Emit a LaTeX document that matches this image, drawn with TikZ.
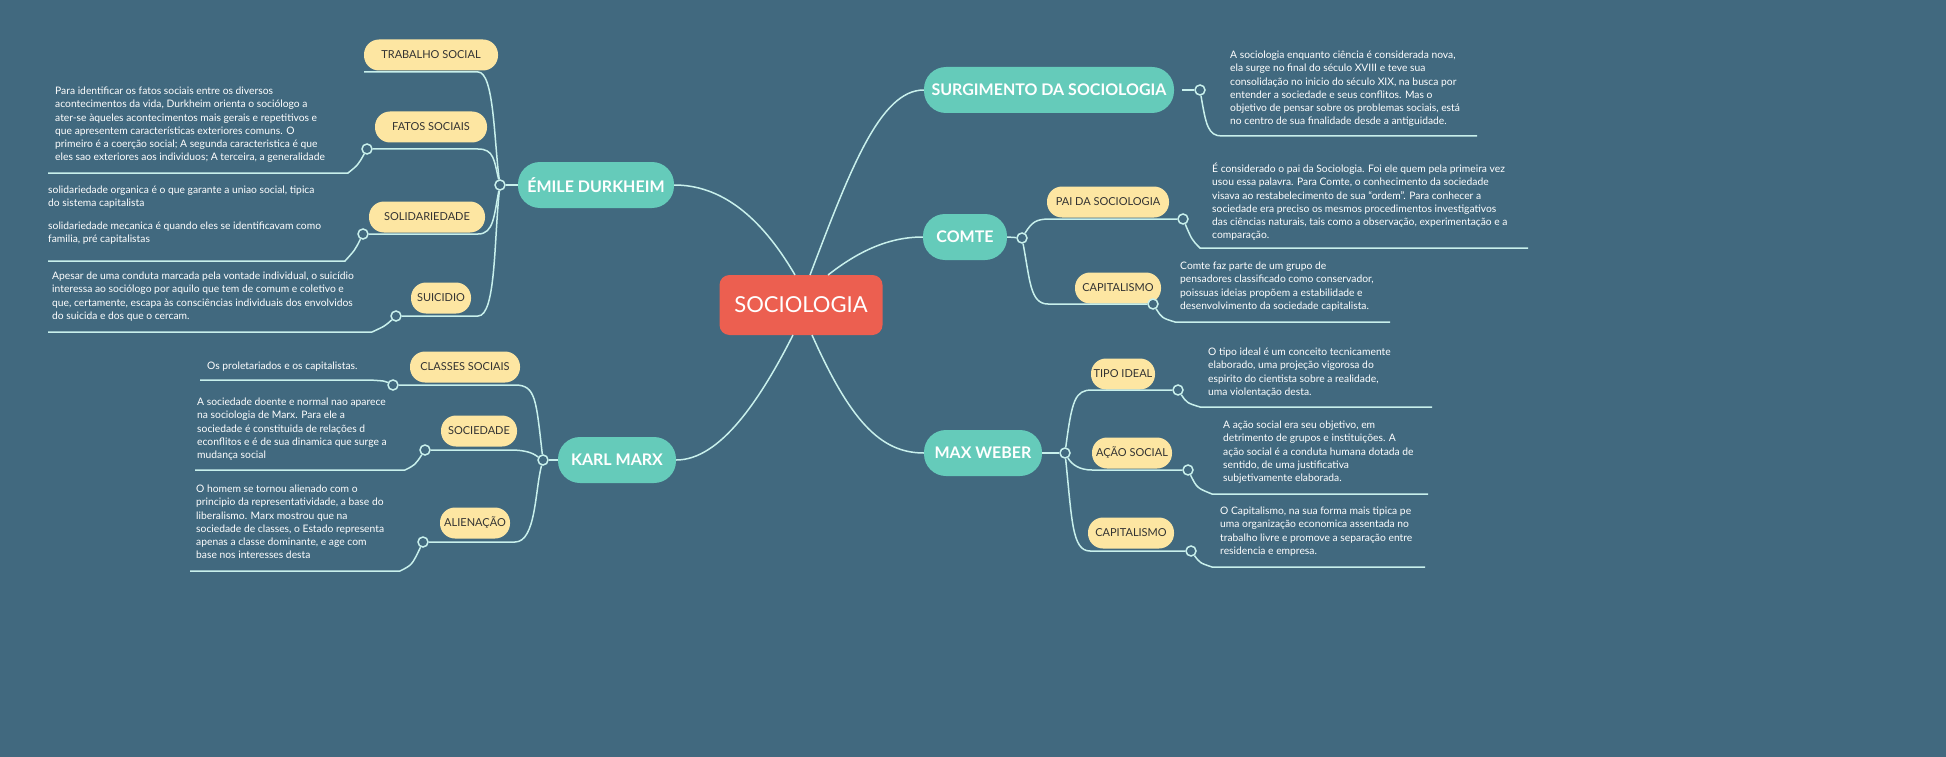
\documentclass[tikz,border=0pt]{standalone}
\usepackage{fontspec}
\setmainfont{Lato}
\definecolor{bg}{HTML}{41697F}
\definecolor{tealc}{HTML}{65CBBA}
\definecolor{yel}{HTML}{FDE6A2}
\definecolor{redc}{HTML}{EC5F50}
\definecolor{ln}{HTML}{C8F0EC}
\tikzset{
 main/.style={fill=tealc,text=white,font=\fontsize{16}{18}\selectfont\bfseries,rounded corners=22pt,minimum height=46pt,inner sep=0pt},
 sub/.style={fill=yel,text=black!80,font=\fontsize{11}{13}\selectfont,rounded corners=15pt,minimum height=31pt,inner sep=0pt},
 txt/.style={anchor=north west,align=left,text=white,font=\fontsize{10.3}{13.2}\selectfont,inner sep=0pt},
 con/.style={draw=ln,line width=1.5pt},
 dot/.style={circle,draw=ln,fill=bg,line width=1.5pt,minimum size=10pt,inner sep=0pt},
}
\begin{document}
\begin{tikzpicture}[x=1pt,y=-1pt]
\fill[bg] (0,0) rectangle (1946,757);
\useasboundingbox (0,0) rectangle (1946,757);
% center
\node[fill=redc,text=white,font=\fontsize{22}{24}\selectfont,rounded corners=10pt,minimum width=163pt,minimum height=60pt] (c) at (801,305) {SOCIOLOGIA};
% main nodes
\node[main,minimum width=156pt] (dur) at (596,185) {ÉMILE DURKHEIM};
\node[main,minimum width=118pt] (marx) at (617,460) {KARL MARX};
\node[main,minimum width=250pt] (sur) at (1049,90) {SURGIMENTO DA SOCIOLOGIA};
\node[main,minimum width=84pt] (com) at (965,237) {COMTE};
\node[main,minimum width=118pt] (web) at (983,453) {MAX WEBER};
\coordinate (c1) at (795,275);
\coordinate (c2) at (793,335);
\coordinate (c3) at (810,275);
\coordinate (c4) at (828,275);
\coordinate (c5) at (812,335);
\draw[con] (c1) .. controls (760,215) and (720,185) .. (dur.east);
\draw[con] (c2) .. controls (760,400) and (720,460) .. (marx.east);
\draw[con] (c3) .. controls (850,170) and (880,90) .. (sur.west);
\draw[con] (c4) .. controls (860,250) and (890,237) .. (com.west);
\draw[con] (c5) .. controls (850,420) and (880,453) .. (web.west);
% Durkheim
\node[dot] (dj) at (500,185) {};
\draw[con] (dur.west) -- (dj);
\node[sub,minimum width=134pt] (d1) at (431,55) {TRABALHO SOCIAL};
\node[sub,minimum width=112pt] (d2) at (431,127) {FATOS SOCIAIS};
\node[sub,minimum width=116pt] (d3) at (427,217) {SOLIDARIEDADE};
\node[sub,minimum width=60pt] (d4) at (441,298) {SUICIDIO};
\node[dot] (dc2) at (367,149) {};
\node[dot] (dc3) at (363,234) {};
\node[dot] (dc4) at (396,316) {};
\draw[con] (dj) .. controls (494,140) and (494,72) .. (478,72) -- (364,72);
\draw[con] (dj) .. controls (494,160) and (494,149) .. (478,149) -- (dc2);
\draw[con] (dj) .. controls (494,215) and (494,234) .. (478,234) -- (dc3);
\draw[con] (dj) .. controls (494,240) and (496,316) .. (478,316) -- (dc4);
\draw[con] (dc2) .. controls (358,165) .. (348,173) -- (48,173);
\draw[con] (dc3) .. controls (355,250) .. (345,261) -- (48,261);
\draw[con] (dc4) .. controls (385,326) .. (372,332) -- (48,332);
\node[txt] at (55,87) {Para identificar os fatos sociais entre os diversos\\acontecimentos da vida, Durkheim orienta o sociólogo a\\ater-se àqueles acontecimentos mais gerais e repetitivos e\\que apresentem características exteriores comuns. O\\primeiro é a coerção social; A segunda caracteristica é que\\eles sao exteriores aos individuos; A terceira, a generalidade};
\node[txt] at (48,186) {solidariedade organica é o que garante a uniao social, tipica\\do sistema capitalista\\[9pt]solidariedade mecanica é quando eles se identificavam como\\familia, pré capitalistas};
\node[txt] at (52,272) {Apesar de uma conduta marcada pela vontade individual, o suicídio\\interessa ao sociólogo por aquilo que tem de comum e coletivo e\\que, certamente, escapa às consciências individuais dos envolvidos\\do suicida e dos que o cercam.};
% Marx
\node[dot] (mj) at (543,460) {};
\draw[con] (marx.west) -- (mj);
\node[sub,minimum width=110pt] (m1) at (465,367) {CLASSES SOCIAIS};
\node[sub,minimum width=76pt] (m2) at (479,431) {SOCIEDADE};
\node[sub,minimum width=70pt] (m3) at (475,523) {ALIENAÇÃO};
\node[dot] (mc1) at (393,385) {};
\node[dot] (mc2) at (425,450) {};
\node[dot] (mc3) at (423,542) {};
\draw[con] (mj) .. controls (536,400) and (536,385) .. (515,385) -- (mc1);
\draw[con] (mj) .. controls (535,455) and (530,450) .. (510,450) -- (mc2);
\draw[con] (mj) .. controls (535,490) and (536,542) .. (515,542) -- (mc3);
\draw[con] (mc1) .. controls (385,381) .. (370,380) -- (200,380);
\draw[con] (mc2) .. controls (415,465) .. (405,470) -- (195,470);
\draw[con] (mc3) .. controls (412,565) .. (400,571) -- (190,571);
\node[txt] at (207,362) {Os proletariados e os capitalistas.};
\node[txt] at (197,398) {A sociedade doente e normal nao aparece\\na sociologia de Marx. Para ele a\\sociedade é constituida de relações d\\econflitos e é de sua dinamica que surge a\\mudança social};
\node[txt] at (196,485) {O homem se tornou alienado com o\\principio da representatividade, a base do\\liberalismo. Marx mostrou que na\\sociedade de classes, o Estado representa\\apenas a classe dominante, e age com\\base nos interesses desta};
% Surgimento
\node[dot] (sc) at (1200,90) {};
\coordinate (se) at (1182,90);
\draw[con] (se) -- (sc);
\draw[con] (sc) .. controls (1206,125) and (1208,136) .. (1222,136) -- (1477,136);
\node[txt] at (1230,51) {A sociologia enquanto ciência é considerada nova,\\ela surge no final do século XVIII e teve sua\\consolidação no inicio do século XIX, na busca por\\entender a sociedade e seus conflitos. Mas o\\objetivo de pensar sobre os problemas sociais, está\\no centro de sua finalidade desde a antiguidade.};
% Comte
\node[dot] (cj) at (1022,238) {};
\draw[con] (com.east) -- (cj);
\node[sub,minimum width=122pt] (p1) at (1108,202) {PAI DA SOCIOLOGIA};
\node[sub,minimum width=86pt] (p2) at (1118,288) {CAPITALISMO};
\node[dot] (pc1) at (1183,219) {};
\node[dot] (pc2) at (1153,304) {};
\draw[con] (cj) .. controls (1032,222) and (1036,219) .. (1050,219) -- (pc1);
\draw[con] (cj) .. controls (1030,280) and (1030,304) .. (1048,304) -- (pc2);
\draw[con] (pc1) .. controls (1192,240) .. (1200,248) -- (1528,248);
\draw[con] (pc2) .. controls (1162,318) .. (1175,322) -- (1390,322);
\node[txt] at (1212,163) {É considerado o pai da Sociologia. Foi ele quem pela primeira vez\\usou essa palavra. Para Comte, o conhecimento da sociedade\\visava ao restabelecimento de sua “ordem”. Para conhecer a\\sociedade era preciso os mesmos procedimentos investigativos\\das ciências naturais, tais como a observação, experimentação e a\\comparação.};
\node[txt] at (1180,262) {Comte faz parte de um grupo de\\pensadores classificado como conservador,\\poissuas ideias propõem a estabilidade e\\desenvolvimento da sociedade capitalista.};
% Weber
\node[dot] (wj) at (1065,453) {};
\draw[con] (web.east) -- (wj);
\node[sub,minimum width=64pt] (w1) at (1123,374) {TIPO IDEAL};
\node[sub,minimum width=80pt] (w2) at (1132,453) {AÇÃO SOCIAL};
\node[sub,minimum width=86pt] (w3) at (1131,533) {CAPITALISMO};
\node[dot] (wc1) at (1178,390) {};
\node[dot] (wc2) at (1188,470) {};
\node[dot] (wc3) at (1191,551) {};
\draw[con] (wj) .. controls (1072,400) and (1075,390) .. (1092,390) -- (wc1);
\draw[con] (wj) .. controls (1072,465) and (1080,470) .. (1092,470) -- (wc2);
\draw[con] (wj) .. controls (1072,520) and (1072,551) .. (1090,551) -- (wc3);
\draw[con] (wc1) .. controls (1187,403) .. (1200,407) -- (1432,407);
\draw[con] (wc2) .. controls (1197,488) .. (1212,494) -- (1428,494);
\draw[con] (wc3) .. controls (1200,563) .. (1212,567) -- (1425,567);
\node[txt] at (1208,348) {O tipo ideal é um conceito tecnicamente\\elaborado, uma projeção vigorosa do\\espirito do cientista sobre a realidade,\\uma violentação desta.};
\node[txt] at (1223,421) {A ação social era seu objetivo, em\\detrimento de grupos e instituições. A\\ação social é a conduta humana dotada de\\sentido, de uma justificativa\\subjetivamente elaborada.};
\node[txt] at (1220,507) {O Capitalismo, na sua forma mais tipica pe\\uma organização economica assentada no\\trabalho livre e promove a separação entre\\residencia e empresa.};
\end{tikzpicture}
\end{document}
